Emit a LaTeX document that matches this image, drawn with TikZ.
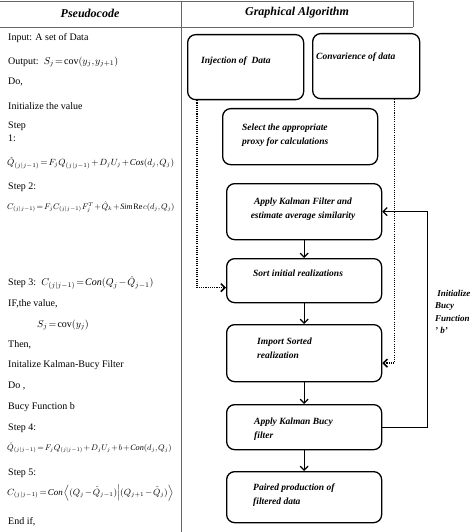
\documentclass[tikz,border=0pt]{standalone}
\usepackage{graphicx}
\usepackage{amsmath}
\usepackage{fontspec}
\setmainfont{Liberation Serif}
\usetikzlibrary{arrows.meta}
\newcommand{\tightmath}{\thickmuskip=2mu plus 1mu\medmuskip=1.5mu\thinmuskip=1.5mu}
\begin{document}
\begin{tikzpicture}[x=1pt,y=-1pt,
 box/.style={draw, line width=1.3pt, rounded corners=8pt, inner sep=0pt, anchor=north west},
 btxt/.style={font=\fontsize{9.5}{14}\selectfont\bfseries\itshape, align=left, anchor=west, inner sep=0pt},
 htxt/.style={font=\fontsize{12}{14}\selectfont\bfseries\itshape, inner sep=0pt},
 ptxt/.style={font=\fontsize{10}{12}\selectfont, anchor=west, inner sep=0pt},
 mtxt/.style={font=\fontsize{9}{12}\selectfont\tightmath, anchor=west, inner sep=0pt},
 flow/.style={line width=1.2pt, -{Straight Barb[length=4pt,width=8pt]}},
 dotflow/.style={line width=1.6pt, dash pattern=on 1.1pt off 1.1pt, -{Straight Barb[length=4pt,width=8pt]}},
 gridline/.style={draw=black!60, line width=0.8pt}]
\useasboundingbox (0,0) rectangle (474,532);
% table lines
\draw[gridline] (0,1) -- (413,1) -- (413,27);
\draw[gridline] (0,27) -- (413,27);
\draw[gridline] (181,1) -- (181,532);
\node[htxt] (hpc) at (90,13) {Pseudocode};
\node[htxt] (hga) at (297,13) {Graphical Algorithm};
% pseudocode
\node[ptxt] (l1) at (8,38) {Input: A set of Data};
\node[ptxt] (l2) at (8,62) {Output:~~{\tightmath$S_j=\mathrm{cov}(y_j,y_{j+1})$}};
\node[ptxt] (l3) at (8,82) {Do,};
\node[ptxt] (l4) at (8,106) {Initialize the value};
\node[ptxt] (l5) at (8,126) {Step};
\node[ptxt] (l6) at (8,138) {1:};
\node[mtxt] (l7) at (7,163) {$\hat{Q}_{(j|j-1)}=F_jQ_{(j|j-1)}+D_jU_j+\mathit{Cos}(d_j,Q_j)$};
\node[ptxt] (l8) at (8,187) {Step 2:};
\node[mtxt] (l9) at (7,207) {\scalebox{0.91}{$C_{(j|j-1)}=F_jC_{(j|j-1)}F_j^T+\hat{Q}_k+\mathit{Sim}\,\mathrm{Re}\,c(d_j,Q_j)$}};
\node[ptxt] (l10) at (8,283) {Step 3:~~{\tightmath$C_{(j|j-1)}=\mathit{Con}(Q_j-\hat{Q}_{j-1})$}};
\node[ptxt] (l11) at (8,304) {IF,the value,};
\node[ptxt] (l12) at (37,325) {{\tightmath$S_j=\mathrm{cov}(y_j)$}};
\node[ptxt] (l13) at (8,345) {Then,};
\node[ptxt] (l14) at (8,365) {Initalize Kalman-Bucy Filter};
\node[ptxt] (l15) at (8,386) {Do ,};
\node[ptxt] (l16) at (8,407) {Bucy Function b};
\node[ptxt] (l17) at (8,428) {Step 4:};
\node[mtxt] (l18) at (7,448) {\scalebox{0.91}{$\hat{Q}_{(j|j-1)}=F_jQ_{(j|j-1)}+D_jU_j+b+\mathit{Con}(d_j,Q_j)$}};
\node[ptxt] (l19) at (8,473) {Step 5:};
\node[mtxt] (l20) at (7,493) {$C_{(j|j-1)}=\mathit{Con}\left\langle(Q_j-\hat{Q}_{j-1})\middle|(Q_{j+1}-\hat{Q}_j)\right\rangle$};
\node[ptxt] (l21) at (8,522) {End if,};
% boxes
\node[box, minimum width=116pt, minimum height=65pt] (inj) at (187,34) {};
\node[box, minimum width=107pt, minimum height=65pt] (conv) at (312,33) {};
\node[box, minimum width=155pt, minimum height=56pt] (sel) at (222,108) {};
\node[box, minimum width=155pt, minimum height=56pt] (kal) at (226,183) {};
\node[box, minimum width=155pt, minimum height=44pt] (sort) at (226,258) {};
\node[box, minimum width=155pt, minimum height=57pt] (imp) at (226,324) {};
\node[box, minimum width=155pt, minimum height=45pt] (bucy) at (226,404) {};
\node[box, minimum width=155pt, minimum height=51pt] (paired) at (226,471) {};
% box texts
\node[btxt] (tinj) at (201,61) {Injection of~~Data};
\node[btxt] (tconv) at (316,57) {Convarience of data};
\node[btxt] (tsel) at (242,135.5) {Select the appropriate\\proxy for calculations};
\node[btxt, align=center, anchor=center] (tkal) at (303,209) {Apply Kalman Filter and\\estimate average similarity};
\node[btxt] (tsort) at (253,273) {Sort initial realizations};
\node[btxt] (timp) at (257,348.5) {Import Sorted\\realization};
\node[btxt] (tbucy) at (254,429) {Apply Kalman Bucy\\filter};
\node[btxt] (tpaired) at (253,495.5) {Paired production of\\filtered data};
\node[btxt, font=\fontsize{9}{12.6}\selectfont\bfseries\itshape] (tfb) at (435,312) {~Initialize\\Bucy\\Function\\\textquoteright\ b\textquoteright};
% connectors
\draw[flow] (kal.south) -- (sort.north);
\draw[flow] (sort.south) -- (imp.north);
\draw[flow] (imp.south) -- (bucy.north);
\draw[flow] (bucy.south) -- (paired.north);
\draw[line width=1.2pt, -{Straight Barb[length=4pt,width=8pt]}] (bucy.east) -- ++(45,0) |- (kal.east);
\draw[dotflow] ([xshift=10pt]inj.south west) |- ([yshift=-7pt]sort.west);
\draw[dotflow] ([xshift=-26pt]conv.south east) |- ([yshift=-10pt]imp.east);
\end{tikzpicture}
\end{document}
